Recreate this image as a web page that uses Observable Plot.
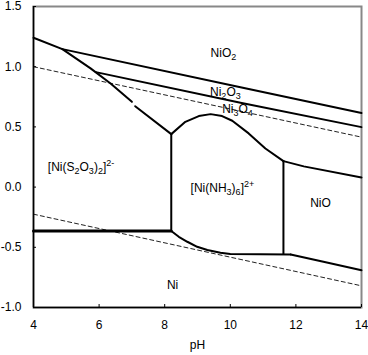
<!DOCTYPE html>
<html><head><meta charset="utf-8">
<script src="https://cdn.jsdelivr.net/npm/d3@7"></script>
<script src="https://cdn.jsdelivr.net/npm/@observablehq/plot@0.6"></script>
<style>body{margin:0;background:#fff}</style>
</head><body><div id="chart"></div>
<script>
// Axis ticks
const xTicks = [4, 6, 8, 10, 12, 14];
const yTicks = [-1, -0.5, 0, 0.5, 1, 1.5];

// Water stability lines (dashed) [pH, E]
const o2Line = [[4, 1.0], [14, 0.415]];
const h2Line = [[4, -0.225], [14, -0.82]];

// Solid boundaries [pH, E]
const thioTopA = [[4, 1.24], [4.88, 1.146], [5.74, 0.986], [6.35, 0.861], [7.0, 0.708]];
const thioTopB = [[7.1, 0.672], [8.2, 0.44]];
const nio2Boundary = [[4.88, 1.146], [10.31, 0.83], [14, 0.615]];
const ni2o3Boundary = [[5.9, 0.955], [10.31, 0.70], [14, 0.498]];
const amminTop = [[8.2, 0.44], [8.63, 0.542], [9.04, 0.59], [9.4, 0.606], [9.75, 0.59], [10.06, 0.551], [10.56, 0.446], [11.07, 0.321], [11.62, 0.216]];
const nioTop = [[11.62, 0.216], [12.24, 0.172], [14, 0.08]];
const leftVertical = [[8.2, 0.44], [8.2, -0.365]];
const rightVertical = [[11.62, 0.216], [11.62, -0.556]];
const amminBottom = [[8.2, -0.365], [8.43, -0.413], [8.69, -0.454], [8.99, -0.496], [9.3, -0.523], [9.7, -0.546], [10.0, -0.556], [11.84, -0.56]];
const niNioBoundary = [[11.84, -0.56], [12.84, -0.62], [14, -0.69]];
const thioNiBoundary = [[4, -0.365], [8.2, -0.365]];

// Region labels
const labelText = ["NiO_2", "Ni_2O_3", "Ni_3O_4", "[Ni(S_2O_3)_2]^{2-}", "[Ni(NH_3)_6]^{2+}", "NiO", "Ni"];
const labelPH = [9.79, 9.85, 10.22, 5.45, 9.76, 12.75, 8.24];
const labelE = [1.113, 0.789, 0.648, 0.166, -0.012, -0.133, -0.814];
const labels = labelText.map((t, i) => ({t, x: labelPH[i], y: labelE[i]}));

const solid = (pts, w = 2) => Plot.line(pts, {x: d => d[0], y: d => d[1], stroke: "#000", strokeWidth: w, strokeLinejoin: "round"});
const dashed = (pts) => Plot.line(pts, {x: d => d[0], y: d => d[1], stroke: "#222", strokeWidth: 1, strokeDasharray: "4,3"});

const svg = Plot.plot({
  width: 368, height: 355,
  marginLeft: 33, marginRight: 7, marginTop: 6, marginBottom: 48,
  style: {fontFamily: "'Liberation Sans', Arial, sans-serif", fontSize: "12px", background: "#fff", color: "#000"},
  x: {domain: [4, 14]},
  y: {domain: [-1, 1.5]},
  marks: [
    Plot.frame({stroke: "#888", strokeWidth: 2}),
    dashed(o2Line),
    dashed(h2Line),
    solid(thioTopA), solid(thioTopB),
    solid(nio2Boundary), solid(ni2o3Boundary),
    solid(amminTop), solid(nioTop),
    solid(leftVertical), solid(rightVertical),
    solid(amminBottom), solid(niNioBoundary),
    solid(thioNiBoundary, 3),
    Plot.ruleX([4], {stroke: "#000", strokeWidth: 1.5}),
    Plot.ruleY([-1], {stroke: "#000", strokeWidth: 1.5}),
    Plot.axisX(xTicks, {tickSize: 3, dy: -3, stroke: "#000", fill: "none", label: null}),
    Plot.axisX(xTicks, {tickSize: 0, tickPadding: 13, tickFormat: d => String(d), fontSize: 12, fill: "#000", label: null}),
    Plot.axisY(yTicks, {tickSize: 3, dx: 3, stroke: "#000", fill: "none", label: null}),
    Plot.axisY(yTicks, {tickSize: 0, tickPadding: 12, tickFormat: d => d.toFixed(1), fontSize: 12, fill: "#000", label: null}),
    Plot.text(labels, {x: "x", y: "y", text: "t", fontSize: 12, fill: "#000"}),
    Plot.text(["pH"], {frameAnchor: "bottom", dy: 41, fontSize: 12, fill: "#000"})
  ]
});

// Convert simple markup to sub/superscript tspans
const ns = "http://www.w3.org/2000/svg";
d3.select(svg).selectAll("g[aria-label='text'] text").each(function() {
  const s = this.textContent;
  if (!/[_^]/.test(s)) return;
  this.textContent = "";
  const re = /_(.)|\^\{([^}]*)\}|([^_^]+)/g;
  let m;
  while ((m = re.exec(s))) {
    const t = document.createElementNS(ns, "tspan");
    if (m[1]) { t.textContent = m[1]; t.setAttribute("font-size", "9"); t.setAttribute("baseline-shift", "-3"); }
    else if (m[2]) { t.textContent = m[2]; t.setAttribute("font-size", "9"); t.setAttribute("baseline-shift", "5"); }
    else t.textContent = m[3];
    this.appendChild(t);
  }
});

document.getElementById("chart").appendChild(svg);
</script>
</body></html>
